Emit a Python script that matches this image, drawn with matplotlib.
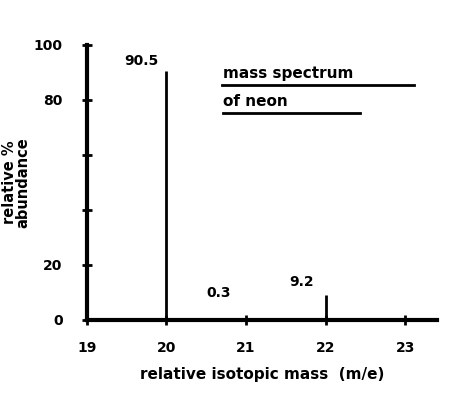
import matplotlib
matplotlib.use("Agg")
import matplotlib.pyplot as plt

masses = [20, 21, 22]
abundance = [90.5, 0.3, 9.2]
labels = ["90.5", "0.3", "9.2"]
xticks = [19, 20, 21, 22, 23]
yticks = [0, 20, 40, 60, 80, 100]
ytick_labels = ["0", "20", "", "", "80", "100"]

plt.rcParams['font.family'] = ['DejaVu Sans']
fig = plt.figure(figsize=(4.62, 3.93), dpi=100)
ax = fig.add_axes([0.188, 0.186, 0.758, 0.70])

ax.vlines(masses, 0, abundance, colors="black", linewidth=2)
ax.set_xlim(19, 23.4)
ax.set_ylim(0, 100)
ax.set_xticks(xticks)
ax.set_yticks(yticks)
ax.set_yticklabels(ytick_labels)
for s in ["top", "right"]:
    ax.spines[s].set_visible(False)
for s in ["left", "bottom"]:
    ax.spines[s].set_linewidth(3)
ax.tick_params(direction="inout", length=7, width=2, labelsize=10, pad=12)
ax.tick_params(axis="y", pad=14)
for t in ax.get_xticklabels() + ax.get_yticklabels():
    t.set_fontweight("bold")

offsets = [(-18, 2), (-20, 14), (-17, 4)]
for x, y, lab, (dx, dy) in zip(masses, abundance, labels, offsets):
    ax.annotate(lab, (x, y), xytext=(dx, dy), textcoords="offset points",
                ha="center", va="bottom", fontsize=10, fontweight="bold")

ax.set_xlabel("relative isotopic mass  (m/e)", fontsize=11, fontweight="bold", labelpad=8)
ax.set_ylabel("relative %\nabundance", fontsize=10.5, fontweight="bold", labelpad=2, linespacing=0.9)

ax.text(0.39, 0.87, "mass spectrum", transform=ax.transAxes, fontsize=11,
        fontweight="bold", va="bottom", ha="left")
ax.text(0.39, 0.765, "of neon", transform=ax.transAxes, fontsize=11,
        fontweight="bold", va="bottom", ha="left")
ax.plot([0.386, 0.934], [0.855, 0.855], transform=ax.transAxes, color="black", lw=2)
ax.plot([0.39, 0.78], [0.753, 0.753], transform=ax.transAxes, color="black", lw=2)

fig.savefig("out.png", dpi=100)
